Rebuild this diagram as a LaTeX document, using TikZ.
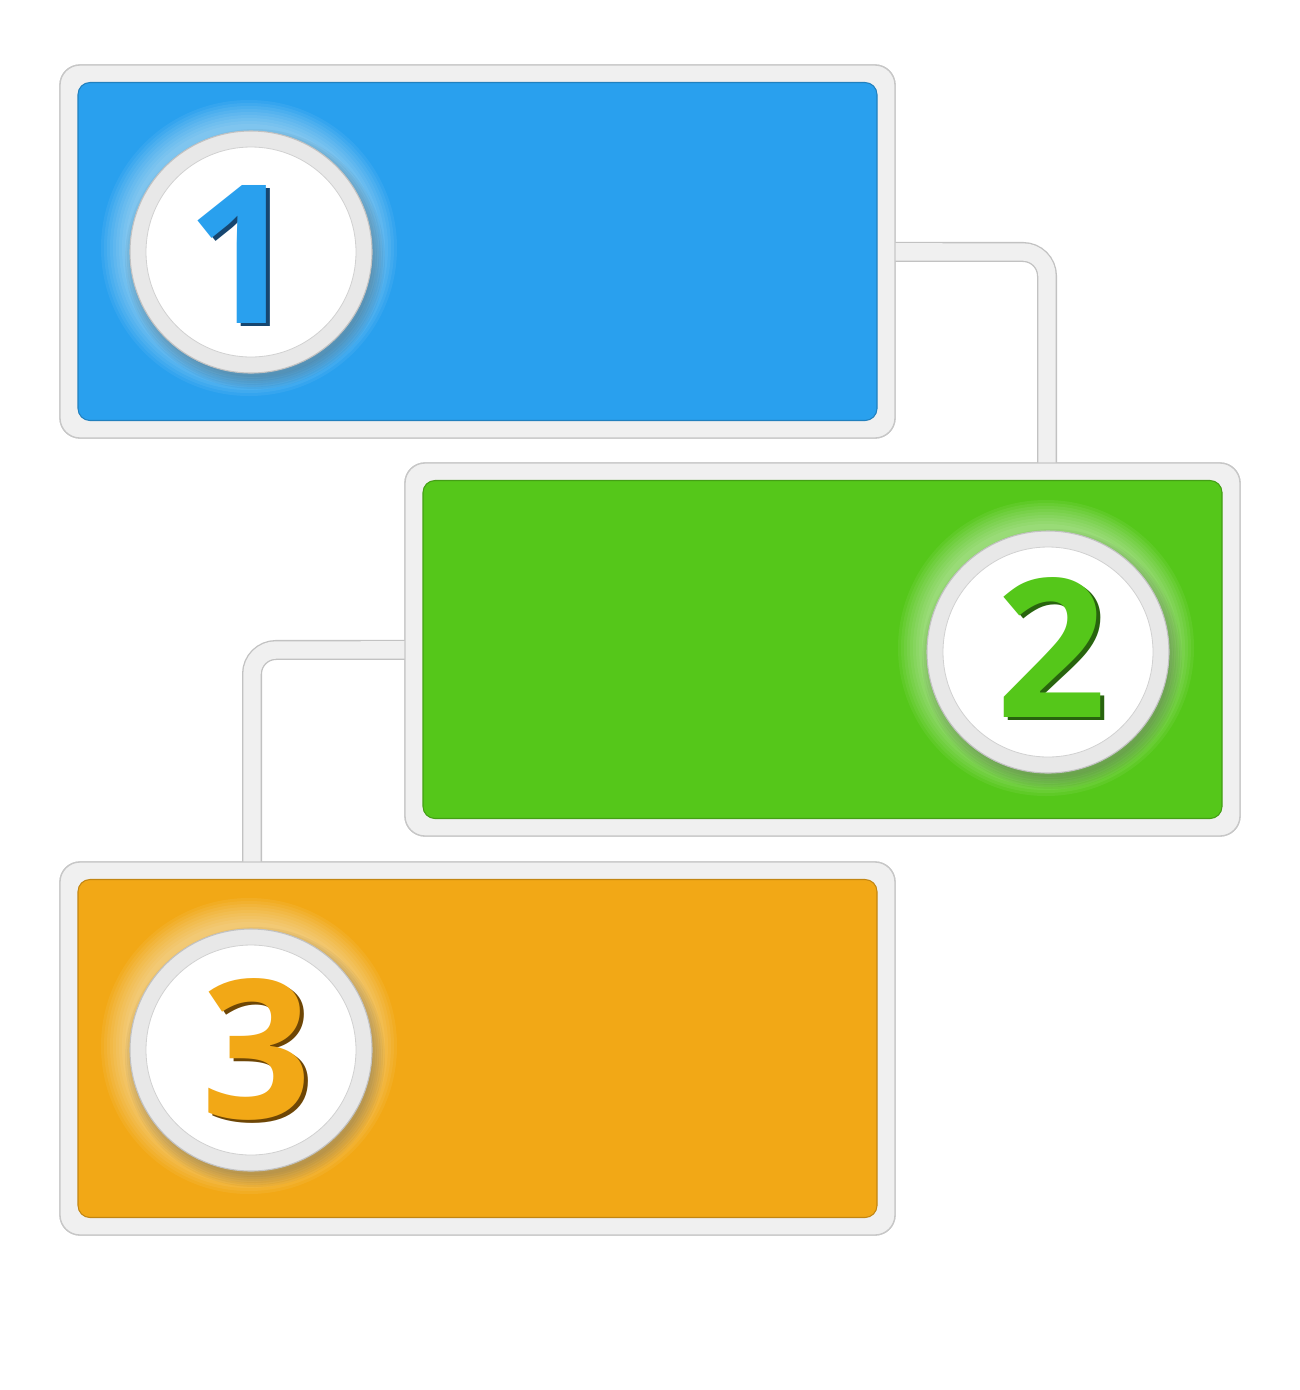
\documentclass[tikz,border=0pt]{standalone}
\usepackage{fontspec}
\newfontfamily\numfont{Open Sans}
\usetikzlibrary{positioning}

\definecolor{panelblue}{RGB}{41,160,238}
\definecolor{panelgreen}{RGB}{85,199,26}
\definecolor{panelorange}{RGB}{242,168,22}
\definecolor{shadeblue}{RGB}{22,70,112}
\definecolor{shadegreen}{RGB}{40,100,14}
\definecolor{shadeorange}{RGB}{110,70,5}

\pgfdeclareradialshading{discshade}{\pgfpoint{0bp}{0bp}}{color(0bp)=(white); color(27bp)=(white); color(35bp)=(black!14); color(50bp)=(black!14)}

% digit with its cast shadow, set as one text
\newcommand\castdigit[2]{\makebox[0pt][l]{\hspace{3pt}\raisebox{-2.25pt}{\color{#1}#2}}#2}

\tikzset{
  frame/.style={draw=black!22, fill=black!6, line width=1pt, rounded corners=15pt,
    minimum width=626.25pt, minimum height=279.75pt, inner sep=0pt},
  panel/.style={fill=#1, draw=#1!80!black, line width=0.8pt, rounded corners=9pt,
    minimum width=599.25pt, minimum height=253.5pt, inner sep=0pt},
  tubeedge/.style={draw=black!24, line width=15pt, rounded corners=18pt},
  tubefill/.style={draw=black!6, line width=13pt, rounded corners=18pt},
  ring/.style={circle, fill=black!9, draw=black!24, line width=0.8pt,
    minimum size=181.5pt, inner sep=0pt},
  disc/.style={circle, shading=discshade, draw=black!18, line width=0.6pt,
    minimum size=157.5pt, inner sep=0pt},
  digit/.style={font=\numfont\bfseries\fontsize{145}{150}\selectfont, text=#1, inner sep=0pt},
}

\begin{document}
\begin{tikzpicture}[x=0.75pt,y=0.75pt,yscale=-1,xscale=1]
% page
\fill[white] (0,0) rectangle (1300,1390);
\useasboundingbox (0,0) rectangle (1300,1390);

% frames
\node[frame] (box1) at (477.5,251.5) {};
\node[frame] (box2) at (822.5,649.5) {};
\node[frame] (box3) at (477.5,1048.5) {};

% connectors (ends hidden under the frames)
\coordinate (bend1) at (1047,252);
\coordinate (bend2) at (252,650);
\draw[tubeedge] (box1.center) -- (bend1) -- (bend1 |- box2.center);
\draw[tubefill] (box1.center) -- (bend1) -- (bend1 |- box2.center);
\draw[tubeedge] (box2.center) -- (bend2) -- (bend2 |- box3.center);
\draw[tubefill] (box2.center) -- (bend2) -- (bend2 |- box3.center);

% frames again over the connector ends
\node[frame] at (box1.center) {};
\node[frame] at (box2.center) {};
\node[frame] at (box3.center) {};

% coloured panels
\node[panel=panelblue] (panel1) at (box1.center) {};
\node[panel=panelgreen] (panel2) at (box2.center) {};
\node[panel=panelorange] (panel3) at (box3.center) {};

% badges: soft glow, soft shadow, ring and disc
\foreach \name/\cx/\cy in {1/251/252, 2/1048/652, 3/251/1050}{
  \foreach \r in {124,127,...,148}
    \fill[white, opacity=0.06] (\cx-2,\cy-4) circle (\r);
  \foreach \r in {118,120,...,130}
    \fill[black, opacity=0.035] (\cx+4,\cy+7) circle (\r);
  \node[ring] (ring\name) at (\cx,\cy) {};
  \node[disc] (disc\name) at (ring\name) {};
}

% numbers
\node[digit=panelblue] (digit1) at (242,256) {\castdigit{shadeblue}{1}};
\node[digit=panelgreen] (digit2) at (1052,649) {\castdigit{shadegreen}{2}};
\node[digit=panelorange] (digit3) at (257,1051) {\castdigit{shadeorange}{3}};

\end{tikzpicture}
\end{document}
